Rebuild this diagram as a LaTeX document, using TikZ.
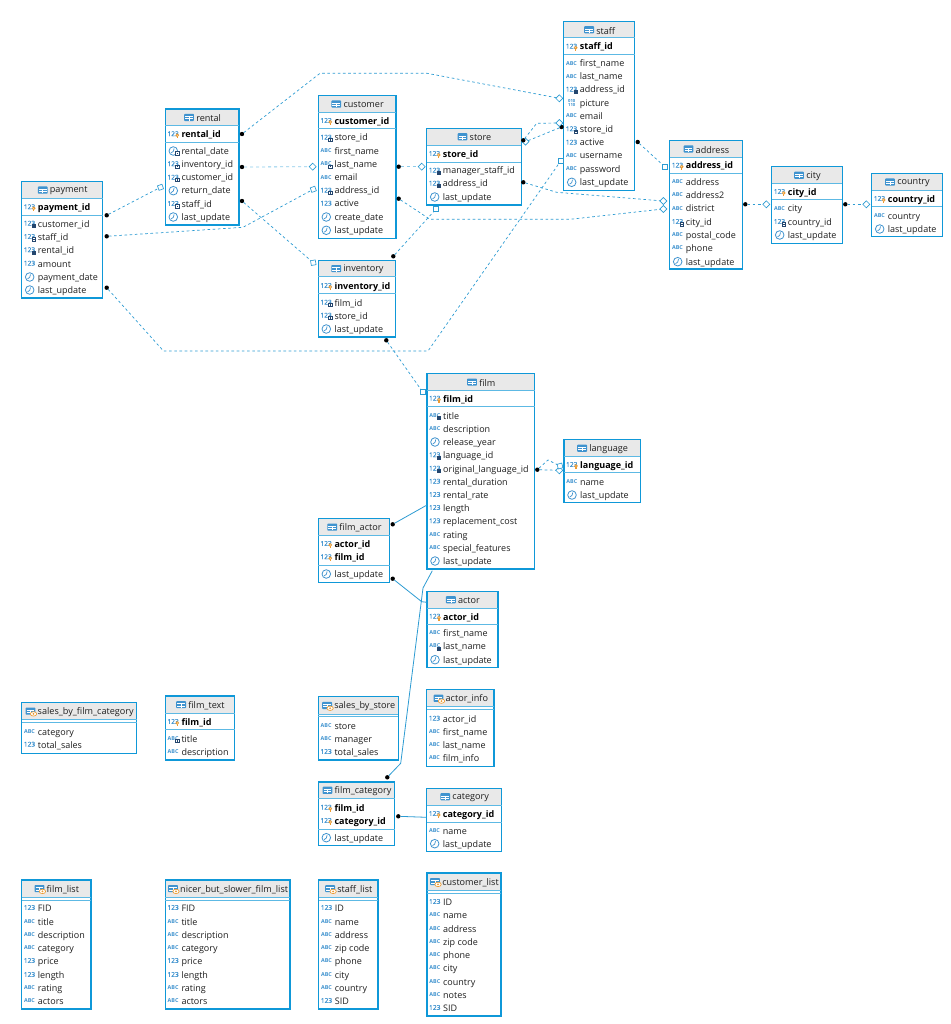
\documentclass[tikz,border=0pt]{standalone}
\usepackage{fontspec}
\setmainfont{Open Sans}
\usetikzlibrary{shapes.geometric,calc}
\definecolor{erblue}{HTML}{0F98D8}
\definecolor{ersep}{HTML}{5DB9E4}
\definecolor{erhead}{HTML}{E9E9E9}
\definecolor{erline}{HTML}{2C9BD2}
\definecolor{erlight}{HTML}{8CCBEA}
\definecolor{erico}{HTML}{3F93CF}
\definecolor{ertext}{HTML}{1E1E1E}
\definecolor{erfk}{HTML}{24466E}
\definecolor{erkey}{HTML}{EE9A2E}
\tikzset{
 x=1pt,y=-1pt,
 tblbox/.style={draw=erblue,line width=1.4pt,fill=white,rectangle,anchor=north west,inner sep=0pt,outer sep=0pt},
 titletext/.style={font=\fontsize{9.1}{11}\selectfont,text=ertext,inner sep=0pt,anchor=center},
 fieldtext/.style={font=\fontsize{9}{11}\selectfont,text=ertext,inner sep=0pt,anchor=base west},
 keytext/.style={font=\fontsize{9}{11}\selectfont\bfseries,text=black,inner sep=0pt,anchor=base west},
 icotext/.style={font=\fontsize{6.6}{7}\selectfont\addfontfeature{FakeBold=.6},text=erico,inner sep=0pt},
 abctext/.style={font=\fontsize{5.4}{6}\selectfont\bfseries,text=erico,inner sep=0pt},
 dotmark/.style={circle,fill=black,inner sep=0pt,minimum size=4.4pt,outer sep=0pt},
 diamark/.style={diamond,draw=erline,fill=white,line width=.65pt,inner sep=0pt,minimum width=7pt,minimum height=7pt,outer sep=0pt},
 sqmark/.style={rectangle,draw=erline,fill=white,line width=.65pt,inner sep=0pt,minimum size=4.8pt,outer sep=0pt},
 rel/.style={draw=erline,line width=.7pt,dash pattern=on 2.6pt off 2.6pt},
 rellight/.style={draw=erlight,line width=.8pt,dash pattern=on 3pt off 3pt},
 relsolid/.style={draw=erline,line width=.8pt},
}
\newcount\rowc
\newcommand{\tbl}[6]{% id x1 y1 x2 y2 hb ; title follows via \ttl
 \def\tx{#2}\def\tid{#1}\def\tb{#6}\def\tr{#4}
 \pgfmathsetmacro\bw{#4-#2}\pgfmathsetmacro\bh{#5-#3}
 \node[tblbox,minimum width=\bw pt,minimum height=\bh pt] (#1) at (#2,#3) {};
 \fill[erhead] (#2+.7,#3+.7) rectangle (#4-.7,#6);
 \draw[ersep,line width=.8pt] (#2,#6) -- (#4,#6);
 \pgfmathsetmacro\cx{(#2+#4)/2+6.5}\pgfmathsetmacro\cy{(#3+#6)/2+.9}
 \edef\tcx{\cx}\edef\tcy{\cy}
}
\newcommand{\ttl}[1]{%
 \node[titletext] (\tid-t) at (\tcx,\tcy) {#1};
 \path (\tid-t.west) ++(-7,-.8) coordinate (\tid-ic);
 \fill[erico,rounded corners=.8pt] ($(\tid-ic)+(-4.9,-3.6)$) rectangle ($(\tid-ic)+(4.9,3.6)$);
 \draw[white,line width=.55pt] ($(\tid-ic)+(-3.9,-.9)$) -- ($(\tid-ic)+(3.9,-.9)$) ($(\tid-ic)+(-3.9,1.3)$) -- ($(\tid-ic)+(3.9,1.3)$) ($(\tid-ic)+(0,-.9)$) -- ($(\tid-ic)+(0,3.1)$);
}
\newcommand{\vttl}[1]{%
 \ttl{#1}
 \draw[erkey,line width=.65pt,fill=white] ($(\tid-ic)+(3,2.8)$) ellipse (3.2pt and 2.2pt);
 \fill[erkey] ($(\tid-ic)+(3,2.8)$) circle (1pt);
}
\newcommand{\sepl}[1]{\draw[ersep,line width=.8pt] (\tx,#1) -- (\tr,#1);}
\newcommand{\lbl}[3]{% style y text
 \global\advance\rowc by 1
 \node[#1] (f\the\rowc) at (\tx+16,#2+3.3) {#3};
}
\newcommand{\icN}[1]{\node[icotext] (n\the\rowc) at (\tx+7.8,#1-.5) {123};}
\newcommand{\icA}[1]{\node[abctext] (n\the\rowc) at (\tx+7.8,#1-.6) {ABC};}
\newcommand{\icC}[1]{\draw[erico,line width=.8pt,fill=white] (\tx+8,#1) circle (4.3pt);
 \draw[erico,line width=.7pt] (\tx+8.8,#1-2.5) -- (\tx+8,#1+.4) -- (\tx+5.8,#1+1.9);}
\newcommand{\icB}[1]{\node[font=\fontsize{4.2}{4.2}\selectfont\bfseries,text=erico,inner sep=0pt,align=center] (n\the\rowc) at (\tx+8,#1) {010\\110};}
\newcommand{\icF}[1]{\draw[erfk,line width=.5pt,fill=white] (\tx+10.2,#1+.6) rectangle (\tx+13.6,#1+4); \fill[erfk] (\tx+11.2,#1+1.6) rectangle (\tx+12.8,#1+3.2);}
\newcommand{\icK}[1]{\fill[erkey] (\tx+11.4,#1+3.9) rectangle (\tx+12.5,#1+1.2); \draw[erkey,line width=.8pt,fill=white] (\tx+12,#1+1) circle (1.3pt);}
\newcommand{\rN}[2]{\lbl{fieldtext}{#1}{#2}\icN{#1}}
\newcommand{\rA}[2]{\lbl{fieldtext}{#1}{#2}\icA{#1}}
\newcommand{\rC}[2]{\lbl{fieldtext}{#1}{#2}\icC{#1}}
\newcommand{\rB}[2]{\lbl{fieldtext}{#1}{#2}\icB{#1}}
\newcommand{\rNF}[2]{\rN{#1}{#2}\icF{#1}}
\newcommand{\rAF}[2]{\rA{#1}{#2}\icF{#1}}
\newcommand{\rCF}[2]{\rC{#1}{#2}\icF{#1}}
\newcommand{\rK}[2]{\lbl{keytext}{#1}{#2}\icN{#1}\icK{#1}}
\begin{document}
\begin{tikzpicture}
\useasboundingbox (0,0) rectangle (950,1024);
% payment
\tbl{payment}{21.7}{181.7}{102.7}{298}{198.3}\ttl{payment}
\rK{207.3}{payment\_id}\sepl{215.3}
\rNF{223.7}{customer\_id}\rNF{237}{staff\_id}\rNF{250.3}{rental\_id}\rN{263.7}{amount}\rC{277}{payment\_date}\rC{290}{last\_update}
% rental
\tbl{rental}{165.3}{109}{239}{225}{125.7}\ttl{rental}
\rK{134.3}{rental\_id}\sepl{142.3}
\rCF{151}{rental\_date}\rNF{164.3}{inventory\_id}\rNF{177.7}{customer\_id}\rC{190.7}{return\_date}\rNF{204}{staff\_id}\rC{217}{last\_update}
% customer
\tbl{customer}{318.3}{95.7}{396}{238.3}{112.3}\ttl{customer}
\rK{121}{customer\_id}\sepl{128.3}
\rNF{137.7}{store\_id}\rA{151}{first\_name}\rAF{164.3}{last\_name}\rA{177.7}{email}\rNF{190.7}{address\_id}\rN{203.7}{active}\rC{217}{create\_date}\rC{230.3}{last\_update}
% store
\tbl{store}{426.7}{128.3}{521.3}{205}{145}\ttl{store}
\rK{154}{store\_id}\sepl{162.7}
\rNF{170.7}{manager\_staff\_id}\rNF{183.7}{address\_id}\rC{197}{last\_update}
% staff
\tbl{staff}{563.7}{21.7}{634.7}{190.3}{37.7}\ttl{staff}
\rK{46.7}{staff\_id}\sepl{54.3}
\rA{63.7}{first\_name}\rA{76.7}{last\_name}\rNF{89.7}{address\_id}\rB{103}{picture}\rA{116.3}{email}\rNF{129.3}{store\_id}\rN{142.7}{active}\rA{155.7}{username}\rA{169}{password}\rC{182.3}{last\_update}
% inventory
\tbl{inventory}{318.3}{260.3}{395.7}{337}{276.7}\ttl{inventory}
\rK{286}{inventory\_id}\sepl{293.7}
\rNF{302.7}{film\_id}\rNF{315.7}{store\_id}\rC{329}{last\_update}
% address
\tbl{address}{669.7}{140.7}{742.3}{269}{157}\ttl{address}
\rK{165.7}{address\_id}\sepl{173.3}
\rA{182.3}{address}\rA{195.3}{address2}\rA{208.7}{district}\rNF{222}{city\_id}\rA{235}{postal\_code}\rA{248.3}{phone}\rC{261.7}{last\_update}
% city
\tbl{city}{771.7}{166.7}{842.3}{243.3}{183.7}\ttl{city}
\rK{192}{city\_id}\sepl{199.7}
\rA{208.7}{city}\rNF{222}{country\_id}\rC{235}{last\_update}
% country
\tbl{country}{871.7}{173.7}{942.3}{236.7}{190.3}\ttl{country}
\rK{199}{country\_id}\sepl{206.7}
\rA{215.7}{country}\rC{229}{last\_update}
% film
\tbl{film}{427}{373.7}{534.7}{569}{390.3}\ttl{film}
\rK{398.7}{film\_id}\sepl{406.3}
\rAF{415.7}{title}\rA{429}{description}\rC{442}{release\_year}\rNF{455.3}{language\_id}\rNF{468.7}{original\_language\_id}\rN{481.7}{rental\_duration}\rN{495}{rental\_rate}\rN{508}{length}\rN{521.3}{replacement\_cost}\rA{534.7}{rating}\rA{547.7}{special\_features}\rC{561}{last\_update}
% language
\tbl{language}{564}{439.7}{640.3}{502.7}{456.7}\ttl{language}
\rK{465}{language\_id}\sepl{472.7}
\rA{481.7}{name}\rC{495}{last\_update}
% film_actor
\tbl{filmactor}{318.3}{518.7}{389.7}{582.3}{535.3}\ttl{film\_actor}
\rK{544}{actor\_id}\rK{557.3}{film\_id}\sepl{565.3}
\rC{574}{last\_update}
% actor
\tbl{actor}{427}{591.3}{498}{667.3}{608}\ttl{actor}
\rK{616.7}{actor\_id}\sepl{624.7}
\rA{633}{first\_name}\rAF{646.3}{last\_name}\rC{659.7}{last\_update}
% sales_by_film_category
\tbl{sbfc}{21.7}{702.7}{136.7}{753.3}{719.3}\vttl{sales\_by\_film\_category}
\sepl{722}
\rA{732}{category}\rN{744.7}{total\_sales}
% film_text
\tbl{filmtext}{165.3}{696}{234.7}{760}{713}\ttl{film\_text}
\rK{722}{film\_id}\sepl{729.7}
\rAF{738.7}{title}\rA{752}{description}
% sales_by_store
\tbl{sbs}{318.3}{696.7}{398.3}{760}{714}\vttl{sales\_by\_store}
\sepl{716}
\rA{725.7}{store}\rA{739}{manager}\rN{752}{total\_sales}
% actor_info
\tbl{actorinfo}{426.7}{689.7}{494}{766.3}{706.7}\vttl{actor\_info}
\sepl{709.3}
\rN{718.7}{actor\_id}\rA{731.7}{first\_name}\rA{744.7}{last\_name}\rA{758}{film\_info}
% film_category
\tbl{filmcategory}{318.3}{782}{394.7}{845.3}{798.3}\ttl{film\_category}
\rK{807.7}{film\_id}\rK{821}{category\_id}\sepl{829.3}
\rC{837.7}{last\_update}
% category
\tbl{category}{426.7}{788.3}{501.7}{851.7}{805}\ttl{category}
\rK{814}{category\_id}\sepl{822}
\rA{830.7}{name}\rC{843.7}{last\_update}
% film_list
\tbl{filmlist}{21.7}{880}{91}{1009}{897}\vttl{film\_list}
\sepl{900}
\rN{908}{FID}\rA{922}{title}\rA{935}{description}\rA{948}{category}\rN{961}{price}\rN{975}{length}\rA{988}{rating}\rA{1001}{actors}
% nicer_but_slower_film_list
\tbl{nicer}{165.3}{880}{290}{1009}{897}\vttl{nicer\_but\_slower\_film\_list}
\sepl{900}
\rN{908}{FID}\rA{922}{title}\rA{935}{description}\rA{948}{category}\rN{961}{price}\rN{975}{length}\rA{988}{rating}\rA{1001}{actors}
% staff_list
\tbl{stafflist}{318.7}{880}{378}{1009}{897}\vttl{staff\_list}
\sepl{900}
\rN{908}{ID}\rA{922}{name}\rA{935}{address}\rA{948}{zip code}\rA{961}{phone}\rA{975}{city}\rA{988}{country}\rN{1001}{SID}
% customer_list
\tbl{custlist}{427}{873}{501}{1016}{890}\vttl{customer\_list}
\sepl{893}
\rN{902}{ID}\rA{915}{name}\rA{929}{address}\rA{942}{zip code}\rA{955}{phone}\rA{968}{city}\rA{982}{country}\rA{995}{notes}\rN{1008}{SID}
% --- relationship end marks
\node[dotmark] (d1) at (106.7,215.3) {};
\node[sqmark,rotate=20] (m1) at (160.5,187.3) {};
\node[dotmark] (d2) at (106.7,236.3) {};
\node[sqmark,rotate=20] (m2) at (313.3,189.3) {};
\node[dotmark] (d3) at (106.7,287.7) {};
\node[sqmark] (m3) at (560.7,161) {};
\node[dotmark] (d4) at (242,134) {};
\node[diamark] (m4) at (559.3,98.3) {};
\node[dotmark] (d5) at (242,167) {};
\node[diamark] (m5) at (312.7,166.7) {};
\node[dotmark] (d6) at (242,201) {};
\node[sqmark,rotate=10] (m6) at (313.3,262.7) {};
\node[dotmark] (d7) at (398.7,166.7) {};
\node[diamark] (m7) at (421.7,166.7) {};
\node[dotmark] (d8) at (398.7,198.7) {};
\node[diamark] (m8) at (663.3,209) {};
\node[dotmark] (d9) at (523.3,182.3) {};
\node[diamark] (m9) at (663.3,201) {};
\node[diamark] (m10b) at (525.5,141.7) {};
\node[dotmark] (d10) at (523.3,140.3) {};
\node[dotmark] (d10b) at (561.5,127) {};
\node[diamark] (m10) at (559.3,123) {};
\node[dotmark] (d11) at (393.3,256.3) {};
\node[sqmark] (m11) at (436,209) {};
\node[dotmark] (d12) at (637.7,142) {};
\node[sqmark] (m12) at (664.7,166.7) {};
\node[dotmark] (d13) at (745.3,204.3) {};
\node[diamark] (m13) at (766.3,204.3) {};
\node[dotmark] (d14) at (845.3,204.3) {};
\node[diamark] (m14) at (866.3,204.3) {};
\node[dotmark] (d15) at (386.3,340.3) {};
\node[sqmark] (m15) at (422.7,392) {};
\node[dotmark] (d16) at (537.3,469.7) {};
\node[diamark] (m16) at (559.3,470.3) {};
\node[sqmark,rotate=15] (m16b) at (560,466) {};
\node[dotmark] (d17) at (392.7,524.3) {};
\node[dotmark] (d18) at (392.7,578.7) {};
\node[dotmark] (d19) at (387.3,777.3) {};
\node[dotmark] (d20) at (398.3,816.3) {};
\coordinate (e17) at (427,505);
\coordinate (e18) at (427,602.3);
\coordinate (e19) at (432.3,570.7);
\coordinate (e20) at (426.7,817.3);
\coordinate (w2) at (243,227.3);
\coordinate (w3a) at (163.5,351);
\coordinate (w3b) at (428,351);
\coordinate (w4a) at (320,73.3);
\coordinate (w4b) at (427,73.3);
\coordinate (w8a) at (430,219.3);
\coordinate (w8b) at (570,219.3);
\coordinate (w9) at (556.7,192.3);
\coordinate (w10) at (536.7,123.3);
\coordinate (w16) at (548,460);
\coordinate (w18) at (421.7,601.7);
\coordinate (w19a) at (400.7,763.3);
\coordinate (w19b) at (423,588);
% --- connectors
\draw[rel] (d1) -- (m1);
\draw[rel] (d2) -- (w2) -- (m2);
\draw[rel] (d3) -- (w3a) -- (w3b) -- (m3);
\draw[rel] (d4) -- (w4a) -- (w4b) -- (m4);
\draw[rellight] (d5) -- (m5);
\draw[rel] (d6) -- (m6);
\draw[rellight] (d7) -- (m7);
\draw[rel] (d8) -- (w8a) -- (w8b) -- (m8);
\draw[rel] (d9) -- (w9) -- (m9);
\draw[rel] (d10) -- (w10) -- (m10);
\draw[rel] (d10b) -- (m10b);
\draw[rel] (d11) -- (m11);
\draw[rel] (d12) -- (m12);
\draw[rel] (d13) -- (m13);
\draw[rel] (d14) -- (m14);
\draw[rel] (d15) -- (m15);
\draw[rel] (d16) -- (m16);
\draw[rel] (d16) -- (w16) -- (m16b);
\draw[relsolid] (d17) -- (e17);
\draw[relsolid] (d18) -- (w18) -- (e18);
\draw[relsolid] (d19) -- (w19a) -- (w19b) -- (e19);
\draw[relsolid] (d20) -- (e20);
\end{tikzpicture}
\end{document}
